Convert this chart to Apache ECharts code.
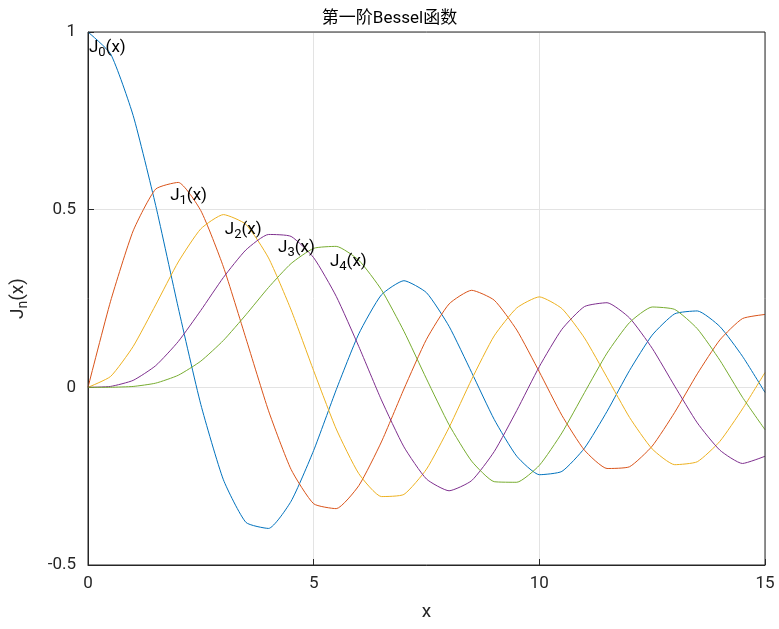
<!DOCTYPE html>
<html>
<head>
<meta charset="utf-8">
<script src="https://cdn.jsdelivr.net/npm/echarts@6/dist/echarts.min.js"></script>
<style>html,body{margin:0;background:#fff}#main{width:779px;height:629px}</style>
</head>
<body>
<div id="main"></div>
<script>
// x sampled every 0.5 from 0 to 15
const xs = [0,0.5,1,1.5,2,2.5,3,3.5,4,4.5,5,5.5,6,6.5,7,7.5,8,8.5,9,9.5,10,10.5,11,11.5,12,12.5,13,13.5,14,14.5,15];
const j0 = [1,0.9385,0.7652,0.5118,0.2239,-0.0484,-0.2601,-0.3801,-0.3971,-0.3205,-0.1776,-0.0068,0.1506,0.2601,0.3001,0.2663,0.1717,0.0419,-0.0903,-0.1939,-0.2459,-0.2366,-0.1712,-0.0677,0.0477,0.1469,0.2069,0.2150,0.1711,0.0875,-0.0142];
const j1 = [0,0.2423,0.4401,0.5579,0.5767,0.4971,0.3391,0.1374,-0.0660,-0.2311,-0.3276,-0.3414,-0.2767,-0.1538,-0.0047,0.1352,0.2346,0.2731,0.2453,0.1613,0.0435,-0.0789,-0.1768,-0.2284,-0.2234,-0.1655,-0.0703,0.0380,0.1334,0.1934,0.2051];
const j2 = [0,0.0306,0.1149,0.2321,0.3528,0.4461,0.4861,0.4586,0.3641,0.2178,0.0466,-0.1173,-0.2429,-0.3074,-0.3014,-0.2303,-0.1130,0.0223,0.1448,0.2235,0.2546,0.2216,0.1390,0.0279,-0.0849,-0.1733,-0.2177,-0.2094,-0.1520,-0.0609,0.0416];
const j3 = [0,0.0026,0.0196,0.0610,0.1289,0.2166,0.3091,0.3868,0.4302,0.4247,0.3648,0.2561,0.1148,-0.0353,-0.1676,-0.2581,-0.2911,-0.2626,-0.1809,-0.0652,0.0584,0.1633,0.2273,0.2381,0.1951,0.1100,0.0033,-0.1000,-0.1768,-0.2143,-0.1940];
const j4 = [0,0.0002,0.0025,0.0118,0.0340,0.0738,0.1320,0.2044,0.2811,0.3484,0.3912,0.3967,0.3576,0.2748,0.1578,0.0238,-0.1054,-0.2077,-0.2655,-0.2672,-0.2196,-0.1283,-0.0150,0.0963,0.1825,0.2261,0.2192,0.1650,0.0762,-0.0278,-0.1192];
const orders = ['0','1','2','3','4'];
const labelPos = [[0.02,0.955],[1.82,0.54],[3.03,0.443],[4.21,0.392],[5.36,0.353]];
const colors = ['#0072BD','#D95319','#EDB120','#7E2F8E','#77AC30'];

const font = 'Roboto, "Noto Sans CJK SC", sans-serif';
const rich = { s: { fontSize: 13, padding: [10, 0, 0, 0], fontFamily: font, color: '#000' } };
const chart = echarts.init(document.getElementById('main'));
const series = [j0, j1, j2, j3, j4].map((d, i) => ({
  type: 'line',
  data: xs.map((x, k) => [x, d[k]]),
  smooth: 0.18,
  symbol: 'none',
  lineStyle: { width: 1, color: colors[i] },
  markPoint: {
    symbol: 'circle', symbolSize: 0,
    data: [{ coord: labelPos[i] }],
    label: {
      show: true, position: 'right', distance: 0,
      formatter: 'J{s|' + orders[i] + '}(x)',
      fontSize: 17, color: '#000', fontFamily: font, rich
    }
  }
}));

chart.setOption({
  animation: false,
  title: { text: '第一阶Bessel函数', left: 'center', top: 5,
    textStyle: { fontSize: 17, fontWeight: 'normal', color: '#000', fontFamily: font } },
  grid: { left: 88, right: 14, top: 32, bottom: 64 },
  xAxis: {
    type: 'value', min: 0, max: 15, interval: 5,
    name: 'x', nameLocation: 'middle', nameGap: 38,
    nameTextStyle: { fontSize: 19, color: '#262626', fontFamily: font },
    axisLine: { show: true, onZero: false, lineStyle: { color: '#262626' } },
    axisTick: { inside: true, length: 6, lineStyle: { color: '#262626' } },
    axisLabel: { fontSize: 17, color: '#262626', fontFamily: font, margin: 10 },
    splitLine: { show: true, lineStyle: { color: '#e3e3e3' } }
  },
  yAxis: {
    type: 'value', min: -0.5, max: 1, interval: 0.5,
    name: 'J{s|n}(x)', nameLocation: 'middle', nameGap: 58,
    nameTextStyle: { fontSize: 19, color: '#262626', fontFamily: font,
      rich: { s: { fontSize: 14, padding: [10, 0, 0, 0], color: '#262626', fontFamily: font } } },
    axisLine: { show: true, onZero: false, lineStyle: { color: '#262626' } },
    axisTick: { inside: true, length: 6, lineStyle: { color: '#262626' } },
    axisLabel: { fontSize: 17, color: '#262626', fontFamily: font, margin: 12,
      formatter: v => String(v) },
    splitLine: { show: true, lineStyle: { color: '#e3e3e3' } }
  },
  graphic: [{ type: 'rect', shape: { x: 88, y: 32, width: 677, height: 533 },
    style: { fill: 'none', stroke: '#262626', lineWidth: 1 }, silent: true, z: 100 }],
  series
});
</script>
</body>
</html>
